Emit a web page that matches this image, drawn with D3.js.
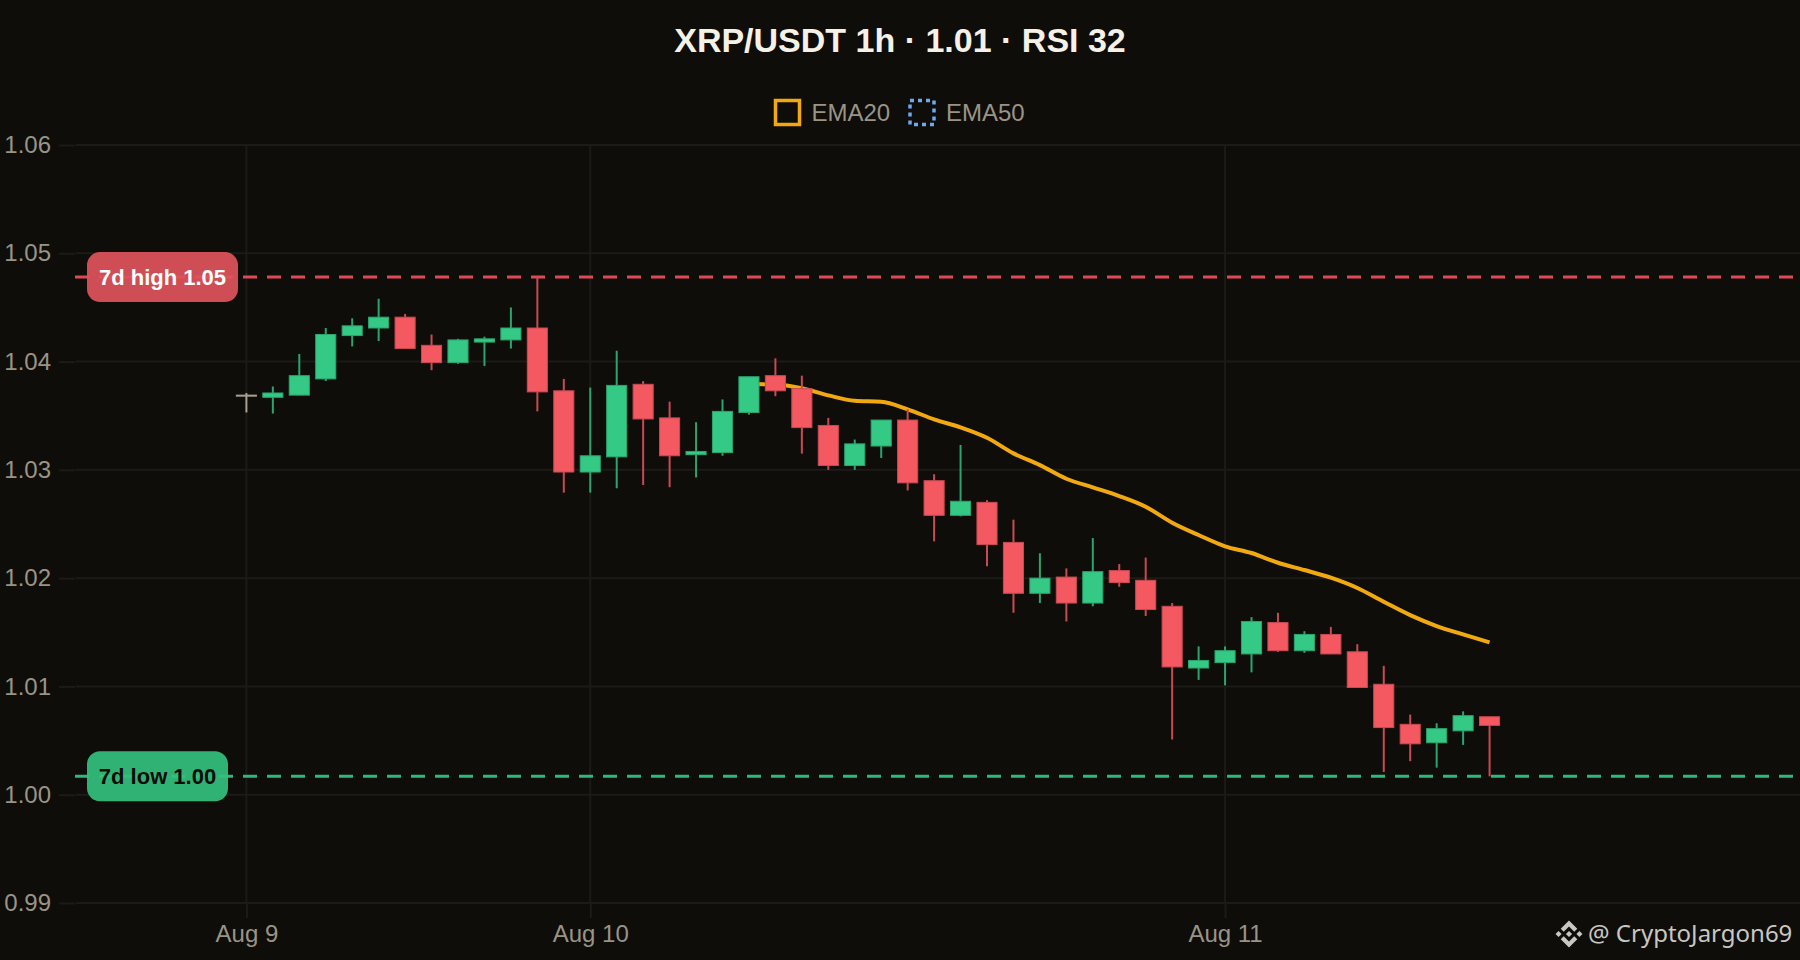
<!DOCTYPE html>
<html>
<head>
<meta charset="utf-8">
<script src="https://cdn.jsdelivr.net/npm/d3@7/dist/d3.min.js"></script>
<style>
  html, body { margin: 0; padding: 0; background: #0e0d0a; }
  text { font-family: "Liberation Sans", Arial, sans-serif; }
</style>
</head>
<body>
<div id="chart"></div>
<script>
// candles, one per hour, first one is Aug 9 11:00
var opens = [1.0369, 1.0367, 1.0369, 1.0384, 1.0424, 1.0431, 1.0441, 1.0415, 1.0399, 1.0418, 1.0420, 1.0431,
  1.0373, 1.0298, 1.0312, 1.0379, 1.0348, 1.0314, 1.0316, 1.0353, 1.0387, 1.0375, 1.0341, 1.0304,
  1.0322, 1.0346, 1.0290, 1.0258, 1.0270, 1.0233, 1.0186, 1.0201, 1.0177, 1.0207, 1.0198, 1.0174,
  1.0117, 1.0122, 1.0130, 1.0159, 1.0133, 1.0148, 1.0132, 1.0102, 1.0065, 1.0048, 1.0059, 1.0072]
var highs = [1.0371, 1.0377, 1.0407, 1.0431, 1.0440, 1.0458, 1.0444, 1.0425, 1.0421, 1.0423, 1.0450, 1.0478,
  1.0384, 1.0376, 1.0410, 1.0382, 1.0363, 1.0344, 1.0365, 1.0386, 1.0403, 1.0387, 1.0348, 1.0328,
  1.0346, 1.0356, 1.0296, 1.0323, 1.0272, 1.0254, 1.0223, 1.0209, 1.0237, 1.0213, 1.0219, 1.0177,
  1.0137, 1.0137, 1.0164, 1.0168, 1.0151, 1.0155, 1.0139, 1.0119, 1.0074, 1.0066, 1.0077, 1.0072]
var lows = [1.0353, 1.0352, 1.0369, 1.0382, 1.0414, 1.0419, 1.0412, 1.0392, 1.0398, 1.0396, 1.0412, 1.0354,
  1.0279, 1.0279, 1.0283, 1.0286, 1.0284, 1.0293, 1.0313, 1.0351, 1.0368, 1.0315, 1.0300, 1.0300,
  1.0311, 1.0281, 1.0234, 1.0257, 1.0211, 1.0168, 1.0177, 1.0160, 1.0174, 1.0192, 1.0165, 1.0051,
  1.0106, 1.0101, 1.0113, 1.0132, 1.0131, 1.0130, 1.0099, 1.0021, 1.0031, 1.0025, 1.0046, 1.0017]
var closes = [1.0369, 1.0371, 1.0387, 1.0425, 1.0433, 1.0441, 1.0412, 1.0399, 1.0420, 1.0421, 1.0431, 1.0372,
  1.0298, 1.0313, 1.0378, 1.0347, 1.0313, 1.0317, 1.0354, 1.0386, 1.0373, 1.0339, 1.0304, 1.0324,
  1.0346, 1.0288, 1.0258, 1.0271, 1.0231, 1.0186, 1.0200, 1.0177, 1.0206, 1.0196, 1.0171, 1.0118,
  1.0124, 1.0133, 1.0160, 1.0133, 1.0148, 1.0130, 1.0099, 1.0062, 1.0047, 1.0061, 1.0073, 1.0064]

// EMA20 only exists from candle 19 on
var ema20_start = 19
var ema20 = [1.03792, 1.03788, 1.03753, 1.03688, 1.03638, 1.03629, 1.03559, 1.03466, 1.03392, 1.03296,
  1.03152, 1.03044, 1.02918, 1.02838, 1.02758, 1.02659, 1.02512, 1.02398, 1.02294, 1.02232,
  1.02142, 1.02075, 1.02004, 1.01909, 1.01782, 1.01659, 1.01558, 1.01481, 1.01407]

var y_ticks = [0.99, 1.00, 1.01, 1.02, 1.03, 1.04, 1.05, 1.06]
var x_tick_index = [0, 13, 37]
var x_tick_labels = ['Aug 9', 'Aug 10', 'Aug 11']

var high_7d = 1.0478
var low_7d = 1.0017
var high_label = '7d high 1.05'
var low_label = '7d low 1.00'
var title_text = 'XRP/USDT 1h · 1.01 · RSI 32'
var legend_names = ['EMA20', 'EMA50']
var watermark = '@ CryptoJargon69'

var COLOR = {
  BG: '#0e0d0a',
  GRID: '#1c1b17',
  TICK: '#9a9484',
  TITLE: '#f6f1e7',
  UP: '#34c985',
  UP_EDGE: '#2aa56e',
  DOWN: '#f45860',
  DOWN_EDGE: '#c94a52',
  DOJI: '#a69f8f',
  EMA20: '#f2a90f',
  EMA50: '#6ea8ee',
  HIGH_LINE: '#dc4a54',
  LOW_LINE: '#2fb87c'
}

var width = 1800
var height = 960
var left = 75
var right = 1794
var top_y = 145
var bottom_y = 903

var svg = d3.select('#chart')
  .append('svg')
  .attr('width', width)
  .attr('height', height)
  .style('display', 'block')

svg.append('rect')
  .attr('width', width)
  .attr('height', height)
  .attr('fill', COLOR.BG)

var x = d3.scaleLinear()
  .domain([-6.48, 58.51])
  .range([left, right])

var y = d3.scaleLinear()
  .domain([0.99, 1.06])
  .range([bottom_y, top_y])

// y axis + horizontal grid
var y_axis = svg.append('g')
  .attr('transform', 'translate(' + left + ',0)')
  .call(
    d3.axisLeft(y)
      .tickValues(y_ticks)
      .tickFormat(d3.format('.2f'))
      .tickSize(16)
      .tickPadding(8)
  )
y_axis.select('.domain').remove()
y_axis.selectAll('.tick line').attr('stroke', COLOR.GRID).attr('stroke-width', 2)
y_axis.selectAll('.tick text').attr('fill', COLOR.TICK).attr('font-size', 24).attr('font-family', '"Liberation Sans"')

svg.append('g')
  .selectAll('line')
  .data(y_ticks)
  .enter()
  .append('line')
  .attr('x1', left + 1)
  .attr('x2', width)
  .attr('y1', d => y(d))
  .attr('y2', d => y(d))
  .attr('stroke', COLOR.GRID)
  .attr('stroke-width', 2)

// x axis + vertical grid
var x_axis = svg.append('g')
  .attr('transform', 'translate(0,' + bottom_y + ')')
  .call(
    d3.axisBottom(x)
      .tickValues(x_tick_index)
      .tickFormat((d, i) => x_tick_labels[i])
      .tickSize(15)
      .tickPadding(7)
  )
x_axis.select('.domain').remove()
x_axis.selectAll('.tick line').attr('stroke', COLOR.GRID).attr('stroke-width', 2)
x_axis.selectAll('.tick text').attr('fill', COLOR.TICK).attr('font-size', 24).attr('font-family', '"Liberation Sans"')

svg.append('g')
  .selectAll('line')
  .data(x_tick_index)
  .enter()
  .append('line')
  .attr('x1', d => x(d))
  .attr('x2', d => x(d))
  .attr('y1', top_y)
  .attr('y2', bottom_y)
  .attr('stroke', COLOR.GRID)
  .attr('stroke-width', 2)

// 7d levels
svg.append('line')
  .attr('x1', left)
  .attr('x2', right)
  .attr('y1', y(high_7d))
  .attr('y2', y(high_7d))
  .attr('stroke', COLOR.HIGH_LINE)
  .attr('stroke-width', 3)
  .attr('stroke-dasharray', '14 10')

svg.append('line')
  .attr('x1', left)
  .attr('x2', right)
  .attr('y1', y(low_7d))
  .attr('y2', y(low_7d))
  .attr('stroke', COLOR.LOW_LINE)
  .attr('stroke-width', 3)
  .attr('stroke-dasharray', '14 10')

// ema line, sits under the candles
var ema_line = d3.line()
  .x((d, i) => x(i + ema20_start))
  .y(d => y(d))
  .curve(d3.curveMonotoneX)

svg.append('path')
  .attr('d', ema_line(ema20))
  .attr('fill', 'none')
  .attr('stroke', COLOR.EMA20)
  .attr('stroke-width', 4)

// candles
var body_w = (x(1) - x(0)) * 0.76
var candle_color = (i) => closes[i] > opens[i] ? COLOR.UP : (closes[i] < opens[i] ? COLOR.DOWN : COLOR.DOJI)
var edge_color = (i) => closes[i] > opens[i] ? COLOR.UP_EDGE : (closes[i] < opens[i] ? COLOR.DOWN_EDGE : COLOR.DOJI)

svg.append('g')
  .selectAll('line')
  .data(d3.range(opens.length))
  .enter()
  .append('line')
  .attr('x1', i => x(i))
  .attr('x2', i => x(i))
  .attr('y1', i => y(highs[i]))
  .attr('y2', i => y(lows[i]))
  .attr('stroke', edge_color)
  .attr('stroke-width', 2)

svg.append('g')
  .selectAll('rect')
  .data(d3.range(opens.length))
  .enter()
  .append('rect')
  .attr('x', i => x(i) - body_w / 2)
  .attr('y', i => y(Math.max(opens[i], closes[i])))
  .attr('width', body_w)
  .attr('height', i => Math.max(Math.abs(y(opens[i]) - y(closes[i])), 1))
  .attr('fill', candle_color)
  .attr('stroke', edge_color)
  .attr('stroke-width', 1)

// price pills
function pill(level, label, x0, w, fill, text_fill) {
  svg.append('rect')
    .attr('x', x0)
    .attr('y', y(level) - 25)
    .attr('width', w)
    .attr('height', 50)
    .attr('rx', 13)
    .attr('fill', fill)
    .attr('fill-opacity', 0.92)
  svg.append('text')
    .attr('x', x0 + w / 2)
    .attr('y', y(level) + 8)
    .attr('text-anchor', 'middle')
    .attr('font-size', 22)
    .attr('font-weight', 'bold')
    .attr('fill', text_fill)
    .text(label)
}
pill(high_7d, high_label, 87, 151, '#e0535b', '#ffffff')
pill(low_7d, low_label, 87, 141, '#33c07e', '#0d0c08')

// title
svg.append('text')
  .attr('x', width / 2)
  .attr('y', 52)
  .attr('text-anchor', 'middle')
  .attr('font-size', 34)
  .attr('font-weight', 'bold')
  .attr('fill', COLOR.TITLE)
  .text(title_text)

// legend
var legend_x = [775.5, 910]
var legend_stroke = [COLOR.EMA20, COLOR.EMA50]
var legend_dash = [null, '4 4']
legend_names.forEach((name, i) => {
  svg.append('rect')
    .attr('x', legend_x[i])
    .attr('y', 100.5)
    .attr('width', 24)
    .attr('height', 24)
    .attr('fill', 'none')
    .attr('stroke', legend_stroke[i])
    .attr('stroke-width', 3.5)
    .attr('stroke-dasharray', legend_dash[i])
  svg.append('text')
    .attr('x', legend_x[i] + 36)
    .attr('y', 121)
    .attr('font-size', 24)
    .attr('fill', COLOR.TICK)
    .text(name)
})

// watermark
svg.append('path')
  .attr('transform', 'translate(1555.5,920.5) scale(0.2132)')
  .attr('fill', '#c9c7c0')
  .attr('d', 'M38.73 53.2l24.59-24.58 24.6 24.6 14.3-14.31L63.32 0 24.43 38.9zM0 63.31l14.3-14.31 14.31 14.31-14.31 14.3zM38.73 73.41l24.59 24.59 24.6-24.6 14.31 14.29-38.9 38.91-38.91-38.88-.02-.02zM98 63.31l14.3-14.31 14.31 14.3-14.31 14.32zM77.83 63.3L63.32 48.78 52.59 59.51l-1.24 1.23-2.54 2.54 14.51 14.5 14.51-14.47z')

svg.append('text')
  .attr('x', 1588)
  .attr('y', 942)
  .attr('font-size', 24)
  .attr('fill', '#c9c7c0')
  .style('font-family', '"Noto Sans"')
  .text(watermark)
</script>
</body>
</html>
